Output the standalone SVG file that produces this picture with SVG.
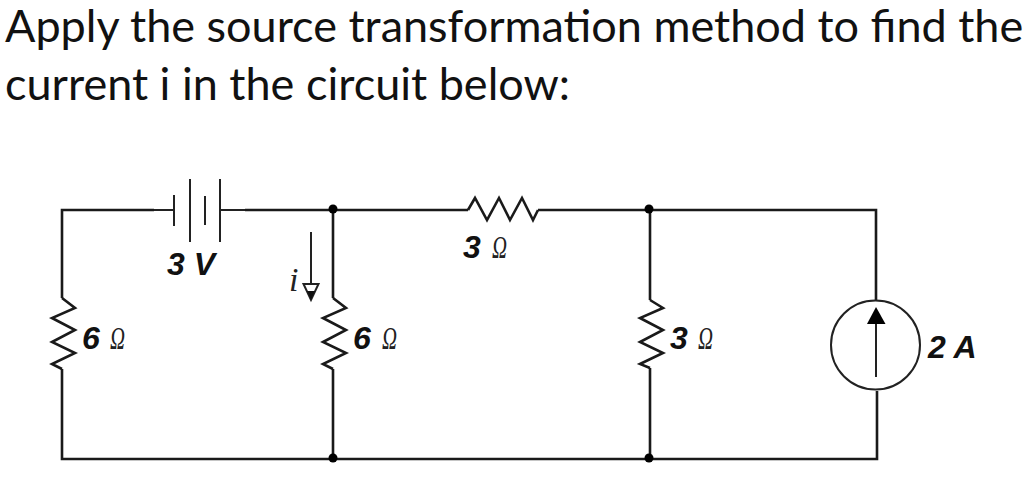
<svg xmlns="http://www.w3.org/2000/svg" width="1024" height="501" viewBox="0 0 1024 501">
<style>
.w{fill:none;stroke:#1a1a1a;stroke-width:2.6;stroke-linejoin:miter}
.t{fill:none;stroke:#222;stroke-width:2}
.dot{fill:#000}
.title{font-family:"Lato","Open Sans",sans-serif;font-size:45px;fill:#111}
.lab{font-family:"Liberation Sans",Arial,sans-serif;font-weight:bold;font-style:italic;font-size:32px;fill:#111}
.om{font-family:"Liberation Serif","DejaVu Serif",serif;font-style:italic;font-size:31px;fill:#222}
</style>
<rect width="1024" height="501" fill="#fff"/>
<g id="title">
<text class="title" x="5" y="42">Apply the source transformation method to find the</text>
<text class="title" x="5" y="100">current i in the circuit below:</text>
</g>
<g id="connectors">
<path class="w" d="M154 210H62V298M62 369V459H877V391M876 300V210H538M468 210H245"/>
<path class="t" d="M154 210H174M220 210H245"/>
<path class="w" d="M333 210V298M333 369V459M650 210V300M650 368V459"/>
</g>
<g id="battery">
<path class="t" d="M174 195V226M190 179V242M205 196V225M220 179V242"/>
<text class="lab" x="167" y="275">3 V</text>
</g>
<g id="r-top">
<path class="w" d="M468 210L475 198L487 220L499 198L510 220L522 198L533 220L538 210"/>
<text class="lab" x="463" y="258">3</text><text class="om" x="492" y="258" textLength="15" lengthAdjust="spacingAndGlyphs">Ω</text>
</g>
<g id="r-left">
<path class="w" d="M62 298L75 308L52 318L75 330L52 342L75 353L52 364L62 369"/>
<text class="lab" x="82" y="349">6</text><text class="om" x="110" y="349" textLength="15" lengthAdjust="spacingAndGlyphs">Ω</text>
</g>
<g id="r-mid">
<path class="w" d="M333 298L346 308L323 318L346 330L323 342L346 353L323 364L333 369"/>
<text class="lab" x="353" y="349">6</text><text class="om" x="382" y="349" textLength="15" lengthAdjust="spacingAndGlyphs">Ω</text>
</g>
<g id="r-right">
<path class="w" d="M650 300L663 308L640 318L663 330L640 342L663 353L640 364L650 368"/>
<text class="lab" x="670" y="349">3</text><text class="om" x="698" y="349" textLength="15" lengthAdjust="spacingAndGlyphs">Ω</text>
</g>
<g id="current-i">
<path class="t" d="M311 232V300"/>
<path d="M303.500 284H318.500L311 300Z" fill="#fff" stroke="#222" stroke-width="2"/>
<path d="M307 291H315L311 300Z" fill="#111"/>
<text x="289" y="291" font-family="Liberation Serif,serif" font-style="italic" font-size="34" fill="#222">i</text>
</g>
<g id="source">
<circle class="t" cx="875.500" cy="345" r="44.500" stroke-width="2.400"/>
<path class="t" d="M876 377V320"/>
<path d="M876 307L885.500 324H867Z" fill="#000"/>
<text class="lab" x="928" y="358">2 A</text>
</g>
<g id="junctions">
<circle class="dot" cx="333" cy="209" r="4.500"/>
<circle class="dot" cx="649" cy="209" r="4.500"/>
<circle class="dot" cx="333" cy="458" r="4.500"/>
<circle class="dot" cx="649" cy="458" r="4.500"/>
</g>
</svg>
